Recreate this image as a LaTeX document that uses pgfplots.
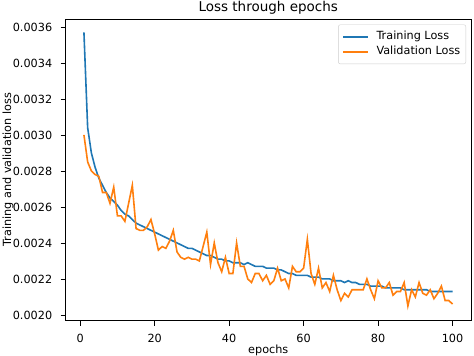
\documentclass[border=0pt]{standalone}
\usepackage{fontspec}
\setmainfont{DejaVu Sans}
\usepackage{pgfplots}
\usepackage{pgfplotstable}
\pgfplotsset{compat=1.18}
\definecolor{mplblue}{HTML}{1F77B4}
\definecolor{mplorange}{HTML}{FF7F0E}
\pgfplotstableread{
ep train val
1 0.00357 0.00300
2 0.00304 0.00285
3 0.00290 0.00280
4 0.00282 0.00278
5 0.00276 0.00277
6 0.00272 0.00268
7 0.00268 0.00268
8 0.00265 0.00262
9 0.00263 0.00271
10 0.00261 0.00255
11 0.00258 0.00255
12 0.00256 0.00252
13 0.00255 0.00262
14 0.00253 0.00272
15 0.00251 0.00248
16 0.00250 0.00247
17 0.00249 0.00247
18 0.00248 0.00249
19 0.00247 0.00253
20 0.00246 0.00245
21 0.00245 0.00236
22 0.00244 0.00238
23 0.00243 0.00237
24 0.00242 0.00241
25 0.00241 0.00247
26 0.00240 0.00235
27 0.00239 0.00232
28 0.00238 0.00231
29 0.00237 0.00232
30 0.00237 0.00231
31 0.00236 0.00231
32 0.00235 0.00230
33 0.00234 0.00238
34 0.00233 0.00246
35 0.00233 0.00228
36 0.00232 0.00240
37 0.00231 0.00229
38 0.00231 0.00224
39 0.00230 0.00232
40 0.00230 0.00223
41 0.00229 0.00223
42 0.00229 0.00240
43 0.00229 0.00227
44 0.00228 0.00227
45 0.00229 0.00220
46 0.00228 0.00218
47 0.00227 0.00223
48 0.00227 0.00223
49 0.00227 0.00219
50 0.00226 0.00222
51 0.00226 0.00217
52 0.00226 0.00219
53 0.00225 0.00226
54 0.00225 0.00219
55 0.00224 0.00220
56 0.00223 0.00215
57 0.00223 0.00227
58 0.00222 0.00224
59 0.00222 0.00224
60 0.00222 0.00226
61 0.00222 0.00242
62 0.00221 0.00223
63 0.00221 0.00217
64 0.00221 0.00226
65 0.00220 0.00215
66 0.00220 0.00218
67 0.00220 0.00213
68 0.00219 0.00222
69 0.00219 0.00214
70 0.00219 0.00208
71 0.00218 0.00212
72 0.00219 0.00210
73 0.00218 0.00214
74 0.00218 0.00214
75 0.00217 0.00214
76 0.00217 0.00214
77 0.00217 0.00220
78 0.00216 0.00214
79 0.00216 0.00209
80 0.00216 0.00219
81 0.00216 0.00215
82 0.00215 0.00215
83 0.00215 0.00218
84 0.00215 0.00211
85 0.00215 0.00213
86 0.00215 0.00213
87 0.00214 0.00218
88 0.00214 0.00205
89 0.00214 0.00214
90 0.00214 0.00210
91 0.00214 0.00218
92 0.00214 0.00212
93 0.00214 0.00211
94 0.00213 0.00214
95 0.00213 0.00209
96 0.00213 0.00212
97 0.00213 0.00216
98 0.00213 0.00208
99 0.00213 0.00208
100 0.00213 0.00206
}\losstable
\begin{document}
\begin{tikzpicture}
\begin{axis}[
  scale only axis,
  width=405.5bp, height=301.7bp,
  xmin=-3.95, xmax=104.95, ymin=0.001968, ymax=0.003644,
  xtick={0,20,40,60,80,100},
  ytick={0.0020,0.0022,0.0024,0.0026,0.0028,0.0030,0.0032,0.0034,0.0036},
  scaled y ticks=false,
  yticklabel style={/pgf/number format/fixed, /pgf/number format/fixed zerofill, /pgf/number format/precision=4},
  /pgf/number format/assume math mode=true,
  tick align=outside, major tick length=4.8bp,
  xtick pos=bottom, ytick pos=left,
  tick style={black, line width=0.8bp},
  axis line style={line width=0.8bp, black},
  tick label style={font=\fontsize{11.25bp}{13bp}\selectfont},
  xticklabel style={anchor=base, yshift=-16.6bp},
  yticklabel style={anchor=east, xshift=-5bp},
  label style={font=\fontsize{11.25bp}{13bp}\selectfont},
  every axis title shift=0pt,
  title={Loss through epochs},
  title style={font=\fontsize{13.5bp}{16bp}\selectfont, at={(axis description cs:0.5,1)}, anchor=base, yshift=7bp},
  xlabel={epochs},
  xlabel style={at={(axis description cs:0.5,0)}, anchor=base, yshift=-32.5bp},
  ylabel={Training and validation loss},
  ylabel style={at={(axis description cs:-0.134,0.5)}, anchor=base},
  legend style={at={(axis description cs:0.9877,0.9817)}, anchor=north east,
    draw=black!20, fill=white, rounded corners=2bp,
    font=\fontsize{11.25bp}{13bp}\selectfont,
    inner xsep=4bp, inner ysep=5.6bp, row sep=2bp,
    nodes={inner sep=1.5bp, text height=7.6bp, text depth=2.4bp}},
  legend cell align=left,
  legend image code/.code={\draw[#1] (0bp,0bp) -- (25bp,0bp); \path (31bp,0bp);},
]
\addplot[mplblue, line width=1.6bp] table[x=ep, y=train] {\losstable};
\addlegendentry{Training Loss}
\addplot[mplorange, line width=1.6bp] table[x=ep, y=val] {\losstable};
\addlegendentry{Validation Loss}
\end{axis}
\pgfresetboundingbox
\useasboundingbox ([shift={(-65.5bp,-35.3bp)}]current axis.south west) rectangle ([shift={(3bp,19bp)}]current axis.north east);
\end{tikzpicture}
\end{document}
